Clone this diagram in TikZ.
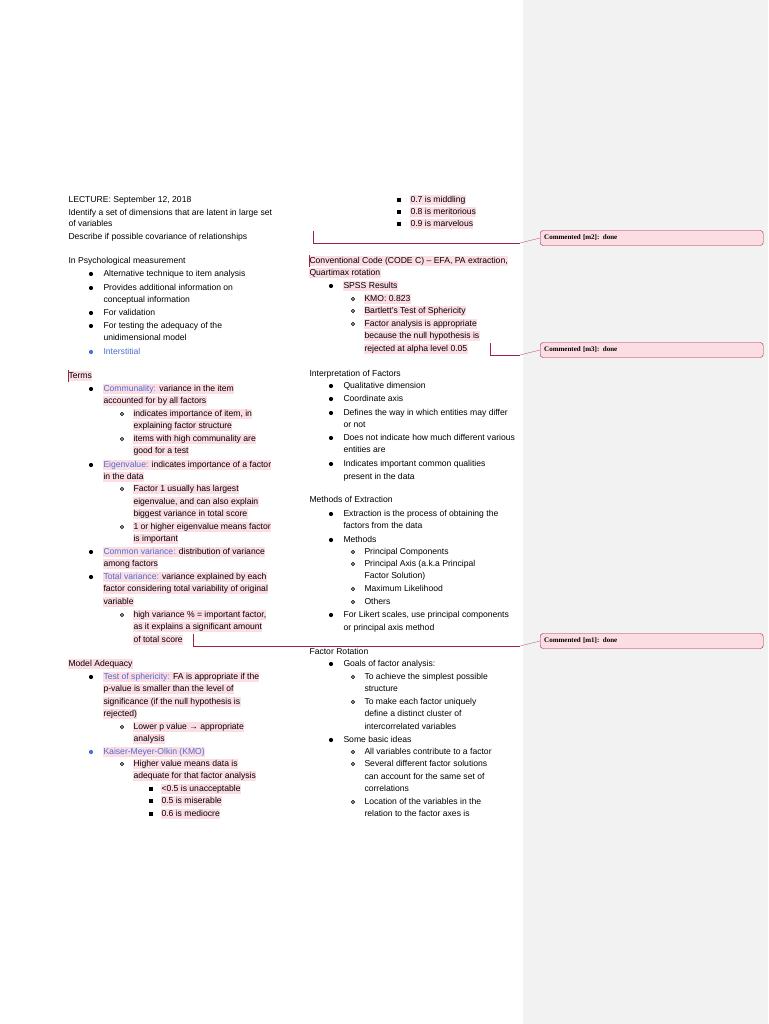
\documentclass[tikz,border=0pt]{standalone}
\usepackage{fontspec}
\setmainfont{Liberation Sans}
\newfontfamily\serifc{Liberation Serif}
\definecolor{hl}{HTML}{FDDDE4}
\definecolor{bl}{HTML}{4A6FD0}
\definecolor{mk}{HTML}{A3203F}
\definecolor{side}{HTML}{F2F2F2}
\newcounter{tn}
\newcommand{\Tx}[3]{\stepcounter{tn}\node[txt,name=t\arabic{tn}] at (#1,#2) {#3};}
\newcommand{\Hx}[3]{\stepcounter{tn}\node[txt,fill=hl,name=t\arabic{tn}] at (#1,#2) {#3};}
\newcommand{\Bu}[2]{\fill (#1,#2) circle (2.1);}
\newcommand{\Bb}[2]{\fill[bl] (#1,#2) circle (2.1);}
\newcommand{\Oc}[2]{\draw[line width=0.7pt] (#1,#2) circle (1.7);}
\newcommand{\Sq}[2]{\fill (#1-1.7,#2-1.7) rectangle (#1+1.7,#2+1.7);}
\newcommand{\Cm}[2]{\stepcounter{tn}\node[cbox,name=c\arabic{tn}] at (540,#1) {\textbf{Commented [#2]: done}};}
\begin{document}
\begin{tikzpicture}[x=1pt,y=-1pt,
 txt/.style={anchor=west,inner xsep=0.3pt,inner ysep=1pt,font=\fontsize{8.6}{9}\selectfont,text height=6.6pt,text depth=2pt},
 cbox/.style={anchor=west,draw=mk,fill=hl,rounded corners=3pt,minimum width=223pt,minimum height=15pt,text width=215pt,align=left,font=\serifc\fontsize{7}{8}\selectfont,inner xsep=4pt},
 mline/.style={draw=mk,line width=0.8pt},
 dline/.style={draw=mk!60,line width=0.5pt}]
\fill[white] (0,0) rectangle (768,1024);
\fill[side] (523,0) rectangle (768,1024);
% left column
\Tx{68}{200}{LECTURE: September 12, 2018}
\Tx{68}{213}{Identify a set of dimensions that are latent in large set}
\Tx{68}{224}{of variables}
\Tx{68}{237}{Describe if possible covariance of relationships}
\Tx{68}{261}{In Psychological measurement}
\Bu{91}{274}\Tx{103}{274}{Alternative technique to item analysis}
\Bu{91}{288}\Tx{103}{288}{Provides additional information on}
\Tx{103}{300}{conceptual information}
\Bu{91}{313}\Tx{103}{313}{For validation}
\Bu{91}{326}\Tx{103}{326}{For testing the adequacy of the}
\Tx{103}{338}{unidimensional model}
\Bb{91}{352}\Tx{103}{352}{\color{bl}Interstitial}
\Hx{68}{376}{Terms}
\draw[mk,line width=0.8pt] (68,370)--(68,382);
\Bu{91}{389}\Hx{103}{389}{{\color{bl}Communality:} variance in the item}
\Hx{103}{401}{accounted for by all factors}
\Oc{122}{414}\Hx{133}{414}{indicates importance of item, in}
\Hx{133}{426}{explaining factor structure}
\Oc{122}{439}\Hx{133}{439}{items with high communality are}
\Hx{133}{451}{good for a test}
\Bu{91}{465}\Hx{103}{465}{{\color{bl}Eigenvalue:} indicates importance of a factor}
\Hx{103}{477}{in the data}
\Oc{122}{489}\Hx{133}{489}{Factor 1 usually has largest}
\Hx{133}{502}{eigenvalue, and can also explain}
\Hx{133}{514}{biggest variance in total score}
\Oc{122}{527}\Hx{133}{527}{1 or higher eigenvalue means factor}
\Hx{133}{539}{is important}
\Bu{91}{552}\Hx{103}{552}{{\color{bl}Common variance:} distribution of variance}
\Hx{103}{564}{among factors}
\Bu{91}{577}\Hx{103}{577}{{\color{bl}Total variance:} variance explained by each}
\Hx{103}{589}{factor considering total variability of original}
\Hx{103}{602}{variable}
\Oc{122}{615}\Hx{133}{615}{high variance \% = important factor,}
\Hx{133}{627}{as it explains a significant amount}
\Hx{133}{640}{of total score}
\Hx{68}{664}{Model Adequacy}
\Bu{91}{677}\Hx{103}{677}{{\color{bl}Test of sphericity:} FA is appropriate if the}
\Hx{103}{689}{p-value is smaller than the level of}
\Hx{103}{702}{significance (if the null hypothesis is}
\Hx{103}{714}{rejected)}
\Oc{122}{727}\Hx{133}{727}{Lower p value → appropriate}
\Hx{133}{739}{analysis}
\Bb{91}{752}\Hx{103}{752}{\color{bl}Kaiser-Meyer-Olkin (KMO)}
\Oc{122}{764}\Hx{133}{764}{Higher value means data is}
\Hx{133}{776}{adequate for that factor analysis}
\Sq{151}{789}\Hx{161}{789}{<0.5 is unacceptable}
\Sq{151}{801}\Hx{161}{801}{0.5 is miserable}
\Sq{151}{814}\Hx{161}{814}{0.6 is mediocre}
% right column
\Sq{399}{200}\Hx{410}{200}{0.7 is middling}
\Sq{399}{212}\Hx{410}{212}{0.8 is meritorious}
\Sq{399}{224}\Hx{410}{224}{0.9 is marvelous}
\Hx{309}{261}{Conventional Code (CODE C) – EFA, PA extraction,}
\draw[mk,line width=0.8pt] (309,255)--(309,267);
\Hx{309}{273}{Quartimax rotation}
\Bu{331}{286}\Hx{343}{286}{SPSS Results}
\Oc{353}{299}\Hx{364}{299}{KMO: 0.823}
\Oc{353}{311}\Hx{364}{311}{Bartlett's Test of Sphericity}
\Oc{353}{324}\Hx{364}{324}{Factor analysis is appropriate}
\Hx{364}{336}{because the null hypothesis is}
\Hx{364}{349}{rejected at alpha level 0.05}
\Tx{309}{374}{Interpretation of Factors}
\Bu{331}{386}\Tx{343}{386}{Qualitative dimension}
\Bu{331}{399}\Tx{343}{399}{Coordinate axis}
\Bu{331}{413}\Tx{343}{413}{Defines the way in which entities may differ}
\Tx{343}{425}{or not}
\Bu{331}{438}\Tx{343}{438}{Does not indicate how much different various}
\Tx{343}{450}{entities are}
\Bu{331}{464}\Tx{343}{464}{Indicates important common qualities}
\Tx{343}{477}{present in the data}
\Tx{309}{500}{Methods of Extraction}
\Bu{331}{514}\Tx{343}{514}{Extraction is the process of obtaining the}
\Tx{343}{526}{factors from the data}
\Bu{331}{540}\Tx{343}{540}{Methods}
\Oc{353}{552}\Tx{364}{552}{Principal Components}
\Oc{353}{564}\Tx{364}{564}{Principal Axis (a.k.a Principal}
\Tx{364}{576}{Factor Solution)}
\Oc{353}{589}\Tx{364}{589}{Maximum Likelihood}
\Oc{353}{602}\Tx{364}{602}{Others}
\Bu{331}{615}\Tx{343}{615}{For Likert scales, use principal components}
\Tx{343}{628}{or principal axis method}
\Tx{309}{652}{Factor Rotation}
\Bu{331}{664}\Tx{343}{664}{Goals of factor analysis:}
\Oc{353}{677}\Tx{364}{677}{To achieve the simplest possible}
\Tx{364}{689}{structure}
\Oc{353}{702}\Tx{364}{702}{To make each factor uniquely}
\Tx{364}{714}{define a distinct cluster of}
\Tx{364}{727}{intercorrelated variables}
\Bu{331}{740}\Tx{343}{740}{Some basic ideas}
\Oc{353}{752}\Tx{364}{752}{All variables contribute to a factor}
\Oc{353}{764}\Tx{364}{764}{Several different factor solutions}
\Tx{364}{777}{can account for the same set of}
\Tx{364}{789}{correlations}
\Oc{353}{802}\Tx{364}{802}{Location of the variables in the}
\Tx{364}{814}{relation to the factor axes is}
% comments
\Cm{238}{m2}
\coordinate (a2) at (313,231);
\draw[mline] (a2) |- (520,243);
\draw[dline] (520,243) -- (c\arabic{tn}.west);
\Cm{350}{m3}
\coordinate (a3) at (490,343);
\draw[mline] (a3) |- (520,355);
\draw[dline] (520,355) -- (c\arabic{tn}.west);
\Cm{641}{m1}
\coordinate (a1) at (193,634);
\draw[mline] (a1) |- (520,646);
\draw[dline] (520,646) -- (c\arabic{tn}.west);
\end{tikzpicture}
\end{document}
